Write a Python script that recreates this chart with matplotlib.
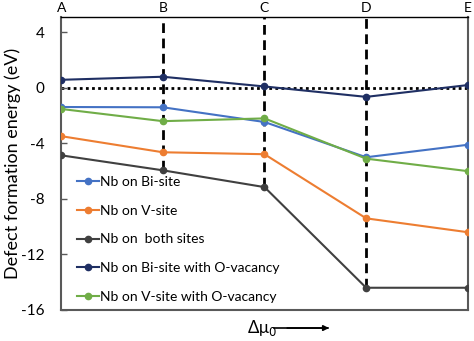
import matplotlib.pyplot as plt

plt.rcParams['font.family'] = ['Lato', 'DejaVu Sans']

# ── data ──────────────────────────────────────────────────────────────
points = ['A', 'B', 'C', 'D', 'E']
bi_site = [-1.38, -1.40, -2.46, -5.00, -4.10]
v_site = [-3.48, -4.64, -4.78, -9.40, -10.40]
both_sites = [-4.86, -5.94, -7.15, -14.40, -14.40]
bi_site_ov = [0.58, 0.80, 0.10, -0.65, 0.20]
v_site_ov = [-1.52, -2.40, -2.20, -5.10, -6.00]
labels = ['Nb on Bi-site', 'Nb on V-site', 'Nb on  both sites',
          'Nb on Bi-site with O-vacancy', 'Nb on V-site with O-vacancy']
yticks = [4, 0, -4, -8, -12, -16]

series = [bi_site, v_site, both_sites, bi_site_ov, v_site_ov]
colors = ['#4472C4', '#ED7D31', '#404040', '#1F2F63', '#70AD47']

fig = plt.figure(figsize=(4.74, 3.41), dpi=100)
ax = fig.add_axes([0.129, 0.091, 0.858, 0.859])

x = list(range(len(points)))
YMAX = 5.1

# dashed guides at B, C, D down to lowest curve
for i in (1, 2, 3):
    low = min(s[i] for s in series)
    ax.plot([i, i], [low, YMAX], color='black', lw=2.0, ls=(0, (3.5, 2)), zorder=1)
ax.axhline(0, color='black', lw=2.0, ls=(0, (1, 1.2)), zorder=1)

for s, c, lab in zip(series, colors, labels):
    ax.plot(x, s, color=c, lw=1.5, marker='o', ms=4.5, label=lab, zorder=3)

ax.set_xlim(0, 4)
ax.set_ylim(-16, YMAX)
ax.set_yticks(yticks)
ax.set_yticklabels([str(t) for t in yticks], fontsize=11)
ax.tick_params(axis='y', direction='in', length=4, width=1, color='#595959', pad=12)
ax.set_xticks([])
for side in ('left', 'bottom', 'right'):
    ax.spines[side].set_color('#595959')
    ax.spines[side].set_linewidth(1.5)
ax.spines['top'].set_color('black')
ax.spines['top'].set_linewidth(1.0)

# top letters
for i, p in enumerate(points):
    ax.text(i, YMAX + 0.68, p, ha='center', va='center', fontsize=10)

ax.set_ylabel('Defect formation energy (eV)', fontsize=13, labelpad=0)

leg = ax.legend(loc='upper left', bbox_to_anchor=(0.025, 0.476), frameon=False,
                fontsize=10, handlelength=1.6, handletextpad=0.1,
                labelspacing=1.2, borderaxespad=0)

# x label with arrow
fig.text(0.521, 0.038, 'Δμ$_0$', ha='left', va='center', fontsize=12)
fig.add_artist(plt.Line2D([0.578, 0.693], [0.038, 0.038], color='black', lw=1.2))
ax.annotate('', xy=(0.700, 0.038), xytext=(0.60, 0.038), xycoords='figure fraction',
            arrowprops=dict(arrowstyle='-|>', color='black', lw=1.2, mutation_scale=8))

fig.savefig('out.png', dpi=100)
